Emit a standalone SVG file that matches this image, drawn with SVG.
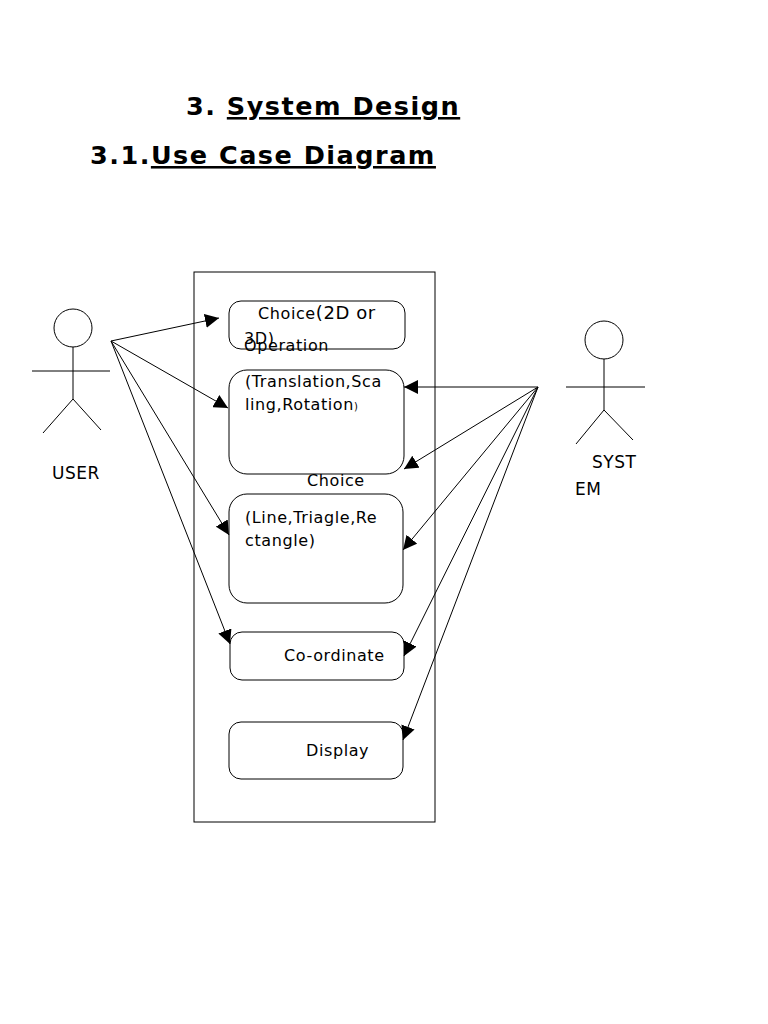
<svg xmlns="http://www.w3.org/2000/svg" width="768" height="1024" viewBox="0 0 768 1024">
<defs>
<style>
text{font-family:"DejaVu Sans",sans-serif;fill:#000}
.t{font-size:17px;letter-spacing:0.5px}
.s{font-size:16px;letter-spacing:0.6px}
.h{font-size:25.5px;font-weight:bold;letter-spacing:1.5px}
.b{fill:#fff;stroke:#000;stroke-width:1}
.l{stroke:#000;stroke-width:1;fill:none}
</style>
<marker id="a" viewBox="0 0 10 10" refX="10" refY="5" markerWidth="14" markerHeight="14" markerUnits="userSpaceOnUse" orient="auto"><path d="M0,0L10,5L0,10z" fill="#000"/></marker>
</defs>
<rect width="768" height="1024" fill="#fff"/>
<text class="h" x="186" y="115">3. <tspan text-decoration="underline">System Design</tspan></text>
<text class="h" x="90" y="164">3.1.<tspan text-decoration="underline">Use Case Diagram</tspan></text>
<rect class="b" x="194" y="272" width="241" height="550"/>
<g id="user"><circle class="l" cx="73" cy="328" r="19"/><path class="l" d="M73,347V399M32,371H110M73,399L43,433M73,399L101,430"/><text class="t" x="52" y="479">USER</text></g>
<g id="system"><circle class="l" cx="604" cy="340" r="19"/><path class="l" d="M604,359V410M566,387H645M604,410L576,444M604,410L633,440"/><text class="t" x="592" y="468">SYST</text><text class="t" x="575" y="495">EM</text></g>
<g id="uc1"><rect class="b" x="229" y="301" width="176" height="48" rx="12"/><text class="s" x="258" y="319">Choice<tspan font-size="18">(2D or</tspan></text><text class="s" x="244" y="344" font-size="18">3D)</text><text class="s" x="244" y="351">Operation</text></g>
<g id="uc2"><rect class="b" x="229" y="370" width="175" height="104" rx="18"/><text class="s" x="245" y="387">(Translation,Sca</text><text class="s" x="245" y="410">ling,Rotation<tspan font-size="10">)</tspan></text></g>
<text class="s" x="307" y="486">Choice</text>
<g id="uc3"><rect class="b" x="229" y="494" width="174" height="109" rx="18"/><text class="s" x="245" y="523">(Line,Triagle,Re</text><text class="s" x="245" y="546">ctangle)</text></g>
<g id="uc4"><rect class="b" x="230" y="632" width="174" height="48" rx="12"/><text class="s" x="284" y="661">Co-ordinate</text></g>
<g id="uc5"><rect class="b" x="229" y="722" width="174" height="57" rx="12"/><text class="s" x="306" y="756">Display</text></g>
<g id="connectors">
<path class="l" marker-end="url(#a)" d="M111,341L219,318"/>
<path class="l" marker-end="url(#a)" d="M111,341L228,408"/>
<path class="l" marker-end="url(#a)" d="M111,341L229,535"/>
<path class="l" marker-end="url(#a)" d="M111,341L230,644"/>
<path class="l" marker-end="url(#a)" d="M538,387L404,387"/>
<path class="l" marker-end="url(#a)" d="M538,387L404,469"/>
<path class="l" marker-end="url(#a)" d="M538,387L403,550"/>
<path class="l" marker-end="url(#a)" d="M538,387L404,656"/>
<path class="l" marker-end="url(#a)" d="M538,387L403,740"/>
</g>
</svg>
